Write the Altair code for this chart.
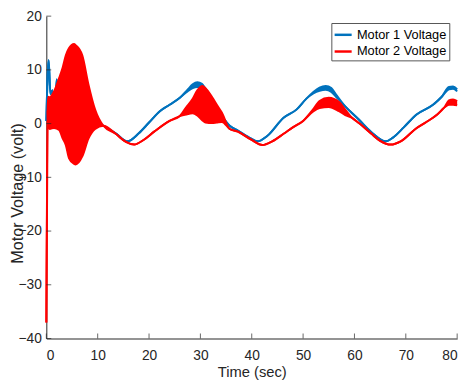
import altair as alt
import pandas as pd

# ---- data ----
series_names = ["Motor 1 Voltage", "Motor 2 Voltage"]
series_colors = ["#0072BD", "#FF0000"]

blue_t = [0, 0.45, 0.8, 1.2, 1.6, 2.0, 2.5, 4.0, 6.0, 8.0, 10.0, 11.1, 13.5, 15.8, 18.0, 20.0,
          22.1, 24.0, 26.0, 27.5, 28.5, 29.4, 30.3, 31.0, 32.5, 34.2, 35.7, 37.3, 39.9, 41.1,
          43.0, 46.2, 48.7, 50.6, 52.0, 53.2, 54.4, 55.5, 56.5, 58.2, 60.8, 63.3, 66.1, 67.5,
          69.6, 72.1, 75.3, 77.0, 78.4, 79.2, 80.0]
blue_lo = [0.5, 11.8, 5.5, 6.2, -0.3, 8.2, 5.0, 4.0, 3.0, 1.5, 0.2, -0.4, -1.8, -3.3, -1.8, 0.2,
           2.3, 3.5, 4.8, 6.0, 6.6, 6.8, 6.5, 5.8, 4.0, 1.4, -0.4, -1.3, -2.8, -3.3,
           -2.3, 1.1, 2.6, 4.6, 5.6, 6.1, 6.3, 5.9, 4.9, 3.2, 0.8, -1.6, -3.3, -2.6,
           -0.7, 1.7, 3.5, 5.0, 6.4, 6.5, 6.0]
blue_hi = [0.5, 11.8, 5.5, 6.2, -0.3, 8.2, 5.0, 4.0, 3.0, 1.5, 0.2, -0.4, -1.8, -3.3, -1.8, 0.2,
           2.3, 3.5, 4.8, 6.3, 7.3, 7.7, 7.4, 6.5, 4.3, 1.4, -0.4, -1.3, -2.8, -3.3,
           -2.3, 1.1, 2.6, 4.6, 5.9, 6.7, 7.0, 6.6, 5.3, 3.2, 0.8, -1.6, -3.3, -2.6,
           -0.7, 1.7, 3.5, 5.0, 6.8, 6.9, 6.4]

red_t = [0, 0.25, 0.35, 0.64, 1.5, 2.5, 3.2, 3.8, 4.4, 5.4, 5.7, 7.0, 8.2, 9.5, 11.1, 13.5,
         15.5, 17.1, 19.0, 21.0, 24.0, 26.0, 27.2, 28.5, 29.4, 30.4, 31.0, 32.3, 33.2, 34.2,
         35.7, 37.3, 39.9, 42.1, 44.0, 46.2, 48.0, 50.0, 51.9, 53.2, 55.0, 57.0, 58.2, 59.5,
         61.0, 63.3, 65.0, 67.1, 69.0, 72.0, 74.0, 76.0, 77.5, 78.4, 79.2, 80.0]
red_lo = [-37, 2.5, -0.5, -1.0, -0.8, -1.2, -2.8, -4.0, -6.4, -7.5, -7.6, -6.1, -2.8, -1.0, -0.4, -1.9,
          -3.4, -3.9, -3.0, -1.5, 0.5, 1.4, 1.7, 1.9, 1.5, 0.6, 0.2, 0.1, 0.2, 0.3,
          -1.0, -1.5, -3.0, -4.0, -3.3, -1.9, -0.7, 0.5, 2.2, 2.9, 3.1, 2.3, 1.6, 1.1,
          0.0, -1.9, -3.2, -3.9, -3.3, -0.9, 0.3, 1.6, 3.0, 3.5, 3.5, 3.4]
red_hi = [-37, 2.5, 5.0, 4.9, 6.0, 8.5, 10.5, 12.7, 14.0, 14.8, 14.6, 12.7, 7.3, 2.6, -0.4, -1.9,
          -3.4, -3.9, -3.0, -1.5, 0.5, 1.4, 3.0, 4.6, 6.2, 7.0, 6.6, 4.9, 3.5, 2.0,
          -1.0, -1.5, -3.0, -4.0, -3.3, -1.9, -0.7, 0.5, 2.6, 4.2, 4.8, 4.0, 2.6, 1.1,
          0.0, -1.9, -3.2, -3.9, -3.3, -0.9, 0.3, 1.6, 3.0, 4.3, 4.5, 4.2]

x_ticks = [0, 10, 20, 30, 40, 50, 60, 70, 80]
y_ticks = [-40, -30, -20, -10, 0, 10, 20]

# ---- tables ----
blue = pd.DataFrame({"t": blue_t, "lo": blue_lo, "hi": blue_hi, "series": series_names[0]})
red = pd.DataFrame({"t": red_t, "lo": red_lo, "hi": red_hi, "series": series_names[1]})
xt = pd.DataFrame({"v": x_ticks})
yt = pd.DataFrame({"v": y_ticks})

FONT = "Liberation Sans"
AX = "#262626"

xscale = alt.Scale(domain=[0, 80], nice=False, zero=False)
yscale = alt.Scale(domain=[-40, 20], nice=False, zero=False)
cscale = alt.Scale(domain=series_names, range=series_colors)
legend = alt.Legend(title=None, orient="none", legendX=290, legendY=7)

x_enc = alt.X("t:Q", scale=xscale, axis=alt.Axis(
    values=x_ticks, title="Time (sec)", grid=False, ticks=False, labelPadding=10,
    labelFontSize=14, labelColor=AX, labelFont=FONT, titleFont=FONT, titleFontSize=15,
    titleFontWeight="normal", titleColor=AX, titleBaseline="alphabetic", titleY=38.5,
    domainColor=AX, format="d"))
y_axis = alt.Axis(
    values=y_ticks, title="Motor Voltage (volt)", grid=False, ticks=False, labelPadding=5,
    labelFontSize=14, labelColor=AX, labelFont=FONT, titleFont=FONT, titleFontSize=16.5,
    titleFontWeight="normal", titleColor=AX, titleBaseline="alphabetic", titleX=-24,
    titleY=180, titleAlign="center", domainColor=AX, format="d")
color_enc = alt.Color("series:N", scale=cscale, legend=legend)


def layers(df):
    base = alt.Chart(df)
    area = base.mark_area(interpolate="monotone", opacity=1).encode(
        x=x_enc,
        y=alt.Y("lo:Q", scale=yscale, axis=y_axis),
        y2="hi:Q",
        color=color_enc,
    )
    lo_line = base.mark_line(interpolate="monotone", strokeWidth=2).encode(
        x=x_enc, y=alt.Y("lo:Q", scale=yscale, axis=y_axis), color=color_enc,
    )
    hi_line = base.mark_line(interpolate="monotone", strokeWidth=2).encode(
        x=x_enc, y=alt.Y("hi:Q", scale=yscale, axis=y_axis), color=color_enc,
    )
    return [area, lo_line, hi_line]


x_tick_marks = alt.Chart(xt).mark_tick(orient="vertical", size=5, thickness=1, color=AX, yOffset=-2.5).encode(
    x=alt.X("v:Q", scale=xscale), y=alt.datum(-40))
y_tick_marks = alt.Chart(yt).mark_tick(orient="horizontal", size=5, thickness=1, color=AX, xOffset=2.5).encode(
    y=alt.Y("v:Q", scale=yscale), x=alt.datum(0))

chart = alt.layer(
    *layers(blue), *layers(red), x_tick_marks, y_tick_marks
).properties(
    width=418, height=328,
    autosize=alt.AutoSizeParams(type="none"),
    padding={"left": 39, "top": 5, "right": 9, "bottom": 43},
).configure_view(stroke=None).configure_legend(
    fillColor="white", strokeColor="#555555",
    padding=2, labelFont=FONT, labelFontSize=13, labelColor="black", labelOffset=4,
    symbolType="stroke", symbolSize=300, symbolStrokeWidth=2.5, rowPadding=0,
    cornerRadius=0, labelLimit=200,
)

chart.save("out.html", embed_options={"renderer": "svg", "actions": False})
